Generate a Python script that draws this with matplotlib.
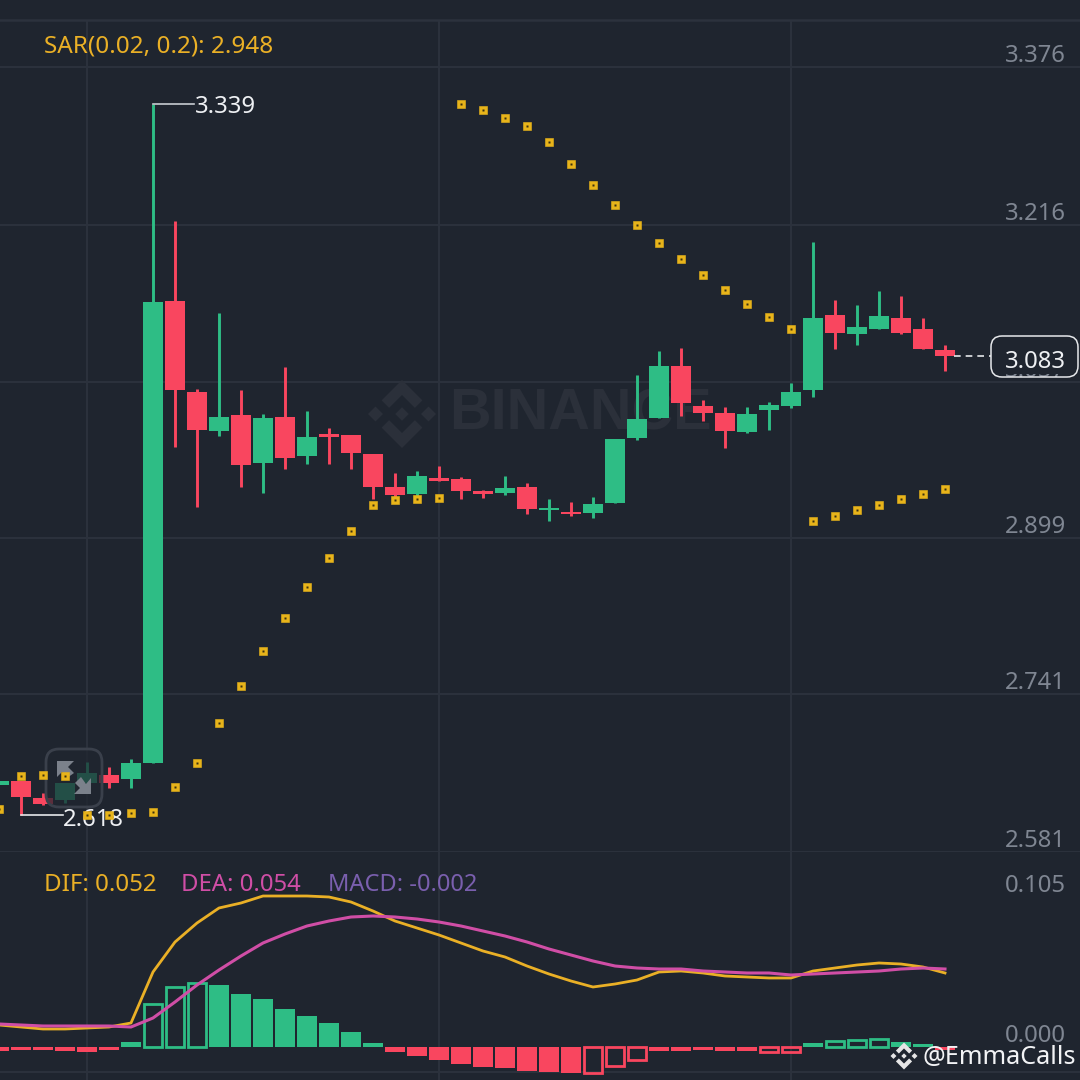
import matplotlib
matplotlib.use('Agg')
import matplotlib.pyplot as plt
from matplotlib.patches import FancyBboxPatch, Polygon
from matplotlib.transforms import Affine2D
import numpy as np

# candles
opens = [2.649, 2.653, 2.636, 2.634, 2.651, 2.659, 2.655, 2.671, 3.139, 3.047, 3.007,
         3.024, 2.975, 3.022, 2.982, 3.004, 3.003, 2.984, 2.951, 2.944, 2.960, 2.959,
         2.947, 2.945, 2.951, 2.927, 2.925, 2.924, 2.934, 3.000, 3.021, 3.073, 3.033,
         3.026, 3.006, 3.029, 3.033, 3.049, 3.125, 3.106, 3.111, 3.122, 3.111, 3.089]
closes = [2.653, 2.637, 2.630, 2.651, 2.661, 2.651, 2.671, 3.138, 3.049, 3.008, 3.022,
          2.973, 3.021, 2.980, 3.001, 3.001, 2.985, 2.951, 2.943, 2.962, 2.957, 2.947,
          2.944, 2.950, 2.928, 2.929, 2.923, 2.933, 2.999, 3.020, 3.073, 3.036, 3.026,
          3.007, 3.025, 3.034, 3.047, 3.122, 3.107, 3.113, 3.124, 3.107, 3.090, 3.083]
highs = [2.659, 2.653, 2.641, 2.651, 2.672, 2.667, 2.675, 3.339, 3.220, 3.050, 3.127,
         3.049, 3.025, 3.072, 3.028, 3.010, 3.003, 2.984, 2.965, 2.967, 2.972, 2.961,
         2.948, 2.962, 2.955, 2.938, 2.935, 2.941, 2.999, 3.064, 3.088, 3.091, 3.039,
         3.032, 3.032, 3.037, 3.056, 3.199, 3.140, 3.135, 3.149, 3.144, 3.122, 3.094]
lows = [2.644, 2.618, 2.629, 2.631, 2.649, 2.646, 2.646, 2.671, 2.991, 2.930, 3.002,
        2.951, 2.945, 2.969, 2.974, 2.974, 2.969, 2.938, 2.941, 2.941, 2.957, 2.938,
        2.940, 2.943, 2.923, 2.916, 2.921, 2.919, 2.934, 2.998, 3.021, 3.023, 3.017,
        2.990, 3.005, 3.008, 3.031, 3.042, 3.090, 3.094, 3.111, 3.106, 3.090, 3.068]
sar = [2.625, 2.658, 2.659, 2.658, 2.618, 2.618, 2.620, 2.622, 2.647, 2.671, 2.712,
       2.749, 2.785, 2.818, 2.849, 2.879, 2.906, 2.932, 2.937, 2.938, 2.940, 3.339,
       3.332, 3.324, 3.316, 3.300, 3.278, 3.257, 3.236, 3.216, 3.198, 3.182, 3.165,
       3.150, 3.136, 3.123, 3.111, 2.916, 2.921, 2.927, 2.932, 2.938, 2.944, 2.949]

# macd panel
dif = [.0154, .014, .0126, .0126, .0133, .014, .0168, .0525, .0735, .0868, .0973,
       .1008, .1057, .1057, .1057, .105, .1015, .0952, .0882, .0833, .0784, .0728,
       .0672, .063, .0567, .0511, .0462, .042, .0441, .0469, .0525, .0532, .0518,
       .0497, .049, .0483, .0483, .0532, .0553, .0574, .0588, .0581, .056, .0518]
dea = [.0161, .0154, .0147, .0147, .0147, .0147, .014, .0203, .0315, .0434, .0539,
       .0637, .0728, .0791, .0847, .0882, .091, .0917, .091, .0896, .0875, .0847,
       .0812, .0777, .0735, .0686, .0644, .0602, .0567, .0553, .0546, .0546, .0532,
       .0525, .0518, .0518, .0504, .0511, .0518, .0525, .0532, .0546, .0553, .0546]
macd = [-.003, -.002, -.002, -.003, -.0035, -.002, .0035, .0301, .042, .0448, .0434,
        .0371, .0336, .0266, .0217, .0168, .0105, .0028, -.0035, -.0063, -.0091, -.0119,
        -.014, -.0147, -.0168, -.0175, -.0182, -.0182, -.0133, -.0091, -.0028, -.0028, -.0021,
        -.0028, -.0028, -.0035, -.0035, .0028, .0042, .0049, .0056, .0035, .0021, -.0021]
hollow_bars = [7, 8, 9, 27, 28, 29, 35, 36, 38, 39, 40]

price_ticks = [3.376, 3.216, 3.057, 2.899, 2.741, 2.581]
macd_ticks = [0.105, 0.000]

BG = '#1f252f'
GRID = '#2c323d'
GREEN = '#2ebd85'
RED = '#f9465f'
YELLOW = '#eab026'
PINK = '#d04ea6'
PURPLE = '#7a5fae'
AXIS = '#7f8692'
FONT = 'Noto Sans'

plt.rcParams['font.family'] = FONT

fig = plt.figure(figsize=(10.8, 10.8), dpi=100, facecolor=BG)
# lets overlay bits be placed by screenshot pixel
px = Affine2D().scale(1, -1).translate(0, 1080)


def logo(ax, cx, cy, r, color, zorder):
    shapes = [[(0, -.2), (.2, 0), (0, .2), (-.2, 0)],
              [(-1, 0), (-.78, -.22), (-.56, 0), (-.78, .22)],
              [(1, 0), (.78, -.22), (.56, 0), (.78, .22)],
              [(0, -1), (.6, -.4), (.38, -.18), (0, -.56), (-.38, -.18), (-.6, -.4)],
              [(0, 1), (.6, .4), (.38, .18), (0, .56), (-.38, .18), (-.6, .4)]]
    for s in shapes:
        pts = [(cx + a * r, cy + b * r) for a, b in s]
        ax.add_patch(Polygon(pts, closed=True, fc=color, ec='none', transform=px,
                             zorder=zorder, clip_on=False))


# price panel
ax = fig.add_axes([0, 228 / 1080, 1, 832 / 1080], facecolor=BG)
x = np.arange(len(opens))
ax.set_xlim(1 / 22, 1081 / 22)
ax.set_ylim(2.581, 2.581 + 832 / 987.4)
ax.set_xticks([4, 20, 36])
ax.set_yticks(price_ticks)
ax.grid(True, color=GRID, lw=1.4)
ax.set_axisbelow(True)
ax.tick_params(length=0, labelbottom=False, labelleft=False)
for name, sp in ax.spines.items():
    sp.set_visible(name == 'top')
    sp.set_color(GRID)
    sp.set_linewidth(1.8)

logo(ax, 402, 414, 34, '#2b303a', 1)
ax.text(580, 414, 'BINANCE', transform=px, color='#2b303a', fontsize=41.5, fontweight='bold',
        family='Liberation Sans', ha='center', va='center', zorder=1)

for i in x:
    col = GREEN if closes[i] >= opens[i] else RED
    ax.vlines(i, lows[i], highs[i], color=col, lw=2.1, zorder=2)
    ax.bar(i, abs(closes[i] - opens[i]), bottom=min(opens[i], closes[i]), width=0.9,
           color=col, zorder=3)

for v in price_ticks:
    ax.annotate(f'{v:.3f}', xy=(1, v), xycoords=ax.get_yaxis_transform(), xytext=(-10, 7.9),
                textcoords='offset points', ha='right', va='center', color=AXIS,
                fontsize=17.2, zorder=4)

ax.text(44, 46, 'SAR(0.02, 0.2): 2.948', transform=px, color=YELLOW, fontsize=17.5,
        va='center', ha='left')

# high / low labels
ax.plot([7, 8.85], [max(highs)] * 2, color='#c8ccd2', lw=1.2, zorder=4)
ax.text(195, 107, f'{max(highs):.3f}', transform=px, color='#eef0f3', fontsize=17.2,
        va='center', ha='left', zorder=5)
ax.plot([1, 2.9], [min(lows)] * 2, color='#e6e8eb', lw=1.2, zorder=4)
ax.text(63, 820, f'{min(lows):.3f}', transform=px, color='#eef0f3', fontsize=17.2,
        va='center', ha='left', zorder=5)

# expand icon sits over the candles
ax.add_patch(FancyBboxPatch((46, 749), 56, 58, boxstyle='round,pad=0,rounding_size=13',
                            fc=BG, ec='none', alpha=0.72, transform=px, zorder=4,
                            clip_on=False))
ax.add_patch(FancyBboxPatch((46, 749), 56, 58, boxstyle='round,pad=0,rounding_size=13',
                            fc='none', ec='#3a404b', lw=2, transform=px, zorder=4,
                            clip_on=False))
ax.add_patch(Polygon([(57, 761), (74, 761), (68, 767), (74, 773), (67, 778), (62, 772), (57, 777)],
                     fc='#7b818b', ec='none', transform=px, zorder=4))
ax.add_patch(Polygon([(91, 794), (74, 794), (80, 788), (75, 783), (81, 777), (86, 784), (91, 778)],
                     fc='#7b818b', ec='none', transform=px, zorder=4))

ax.plot(x, sar, ls='none', marker='s', ms=6.4, mfc='#e8b41a', mec='#e8b41a', mew=0.4, zorder=6)
ax.plot(x, sar, ls='none', marker='s', ms=1.9, mfc='#3a2f10', mec='none', zorder=7)

# last price tag
ax.plot([43.4, 45.1], [closes[-1]] * 2, color='#e6e8eb', lw=1.2, ls=(0, (4, 3)), zorder=4)
ax.add_patch(FancyBboxPatch((991, 336), 87, 41, boxstyle='round,pad=0,rounding_size=11',
                            fc='none', ec='#e6e8eb', lw=1.1, transform=px, zorder=5, clip_on=False))
ax.text(1035, 362, f'{closes[-1]:.3f}', transform=px, color='#eef0f3', fontsize=17.2,
        ha='center', va='center', zorder=6, bbox=dict(fc=BG, ec='none', pad=0))

# macd panel
ax2 = fig.add_axes([0, 0, 1, 228 / 1080], facecolor=BG)
ax2.set_xlim(1 / 22, 1081 / 22)
ax2.set_ylim(-0.0231, 0.1365)
ax2.set_xticks([4, 20, 36])
ax2.set_yticks([])
ax2.grid(True, axis='x', color=GRID, lw=1.4)
ax2.set_axisbelow(True)
ax2.axhline(-0.0175, color=GRID, lw=1.4, zorder=0)
ax2.tick_params(length=0, labelbottom=False, labelleft=False)
for sp in ax2.spines.values():
    sp.set_visible(False)

for i in x:
    col = GREEN if macd[i] >= 0 else RED
    if i in hollow_bars:
        ax2.bar(i, macd[i], width=0.84, fc='none', ec=col, lw=2, zorder=2)
    else:
        ax2.bar(i, macd[i], width=0.9, color=col, zorder=2)

ax2.plot(x, dif, color=YELLOW, lw=2, zorder=3)
ax2.plot(x, dea, color=PINK, lw=2.2, zorder=4)

for v in macd_ticks:
    ax2.annotate(f'{v:.3f}', xy=(1, v), xycoords=ax2.get_yaxis_transform(), xytext=(-10, 7.9),
                 textcoords='offset points', ha='right', va='center', color=AXIS, fontsize=17.2)

ax2.text(44, 885, f'DIF: {dif[-1]:.3f}', transform=px, color=YELLOW, fontsize=17.3, va='center')
ax2.text(181, 885, 'DEA: 0.054', transform=px, color=PINK, fontsize=17.2, va='center')
ax2.text(328, 885, f'MACD: {macd[-1]:.3f}', transform=px, color=PURPLE, fontsize=17, va='center')

logo(ax2, 904, 1056, 13.5, '#e6e6e6', 6)
ax2.text(922, 1057, '@EmmaCalls', transform=px, color='#f2f3f5', fontsize=18.2, va='center',
         ha='left', zorder=6)

fig.savefig('out.png', dpi=100, facecolor=BG)
